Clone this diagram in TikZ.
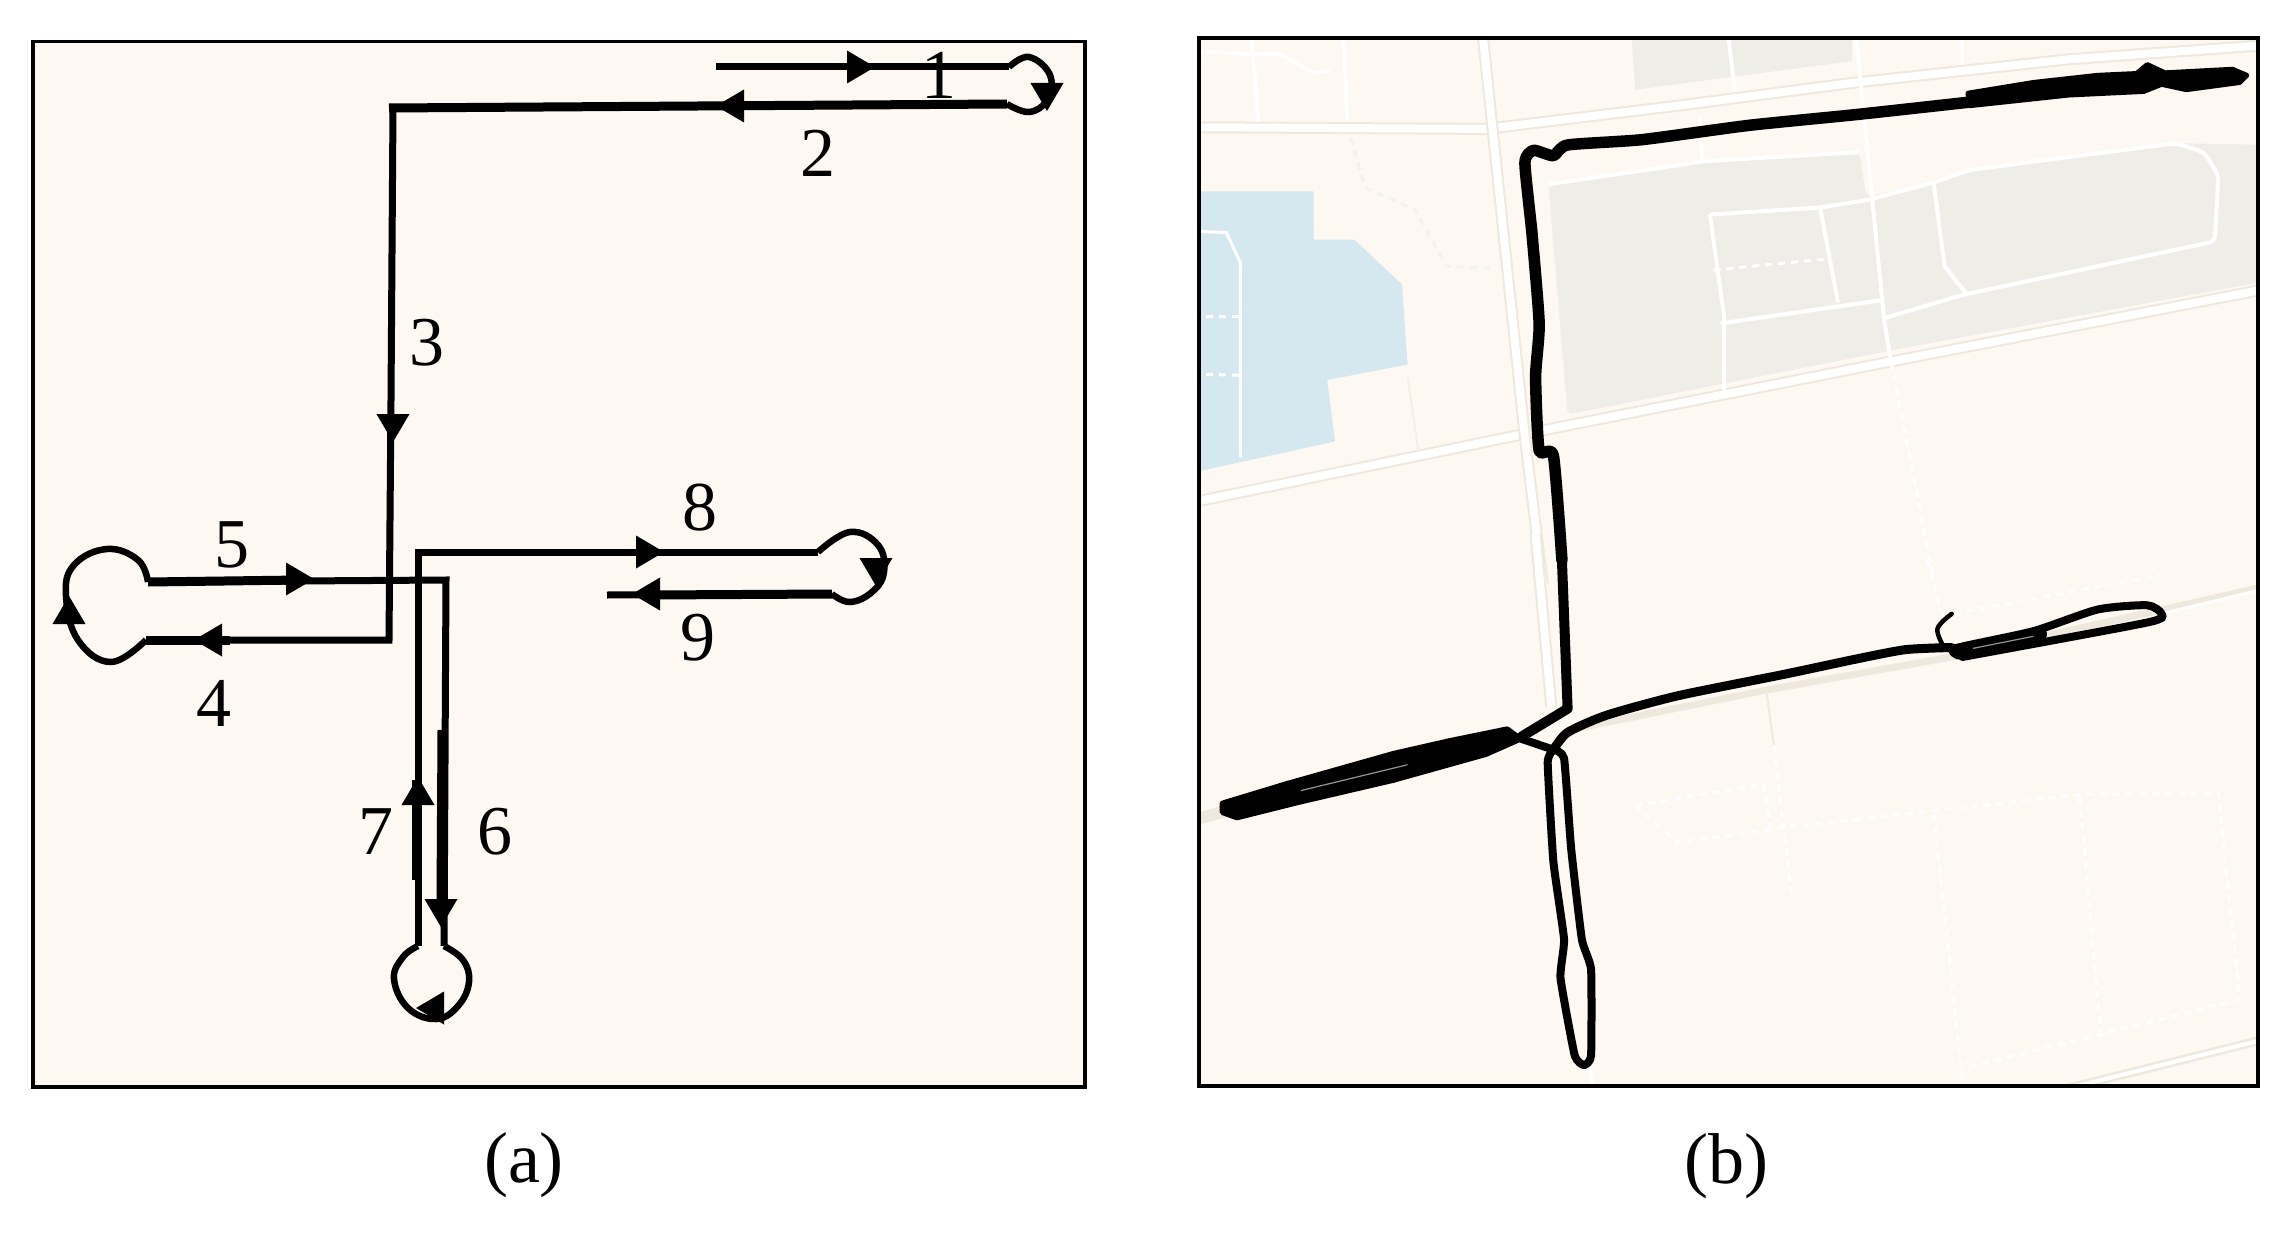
\documentclass[tikz,border=0pt]{standalone}
\usepackage{fontspec}
\setmainfont{Liberation Serif}
\definecolor{paper}{HTML}{FDF8F2}
\definecolor{block}{HTML}{EEEDE8}
\definecolor{water}{HTML}{D5E8F0}
\definecolor{casing}{HTML}{EFE8DC}
\newcommand{\routetip}[2]{\fill[black,shift={(#1)},rotate=#2] (0,0) -- (-28,16.5) -- (-28,-16.5) -- cycle;}
\tikzset{
  frame/.style={draw=black,line width=3.5pt,fill=paper},
  route/.style={draw=black,line width=7pt,line join=miter},
  heavy/.style={draw=black,line width=9pt},
  loopline/.style={draw=black,line width=6.5pt},
  digit/.style={font=\fontsize{70}{80}\selectfont,inner sep=0pt},
  caption/.style={font=\fontsize{72}{80}\selectfont,inner sep=0pt},
  zthree/.style={shift={(1180,20)},x=0.7112pt,y=-0.3571pt},
  zfour/.style={shift={(1180,560)},x=0.7112pt,y=-0.4310pt},
  wide/.style={draw=casing,line width=12pt},
  wideinner/.style={draw=white,line width=8pt},
  lane/.style={draw=white,line width=4pt},
  trail/.style={draw=#1,line width=3pt,dash pattern=on 7pt off 6pt},
  trail/.default=white,
  track/.style={draw=black,line width=11.5pt,line join=round,line cap=round},
  trackthin/.style={draw=black,line width=8pt,line join=round,line cap=round},
}
\begin{document}
\begin{tikzpicture}[x=1pt,y=-1pt]
\useasboundingbox (0,0) rectangle (2295,1236);
\fill[white] (0,0) rectangle (2295,1236);

% ---------- panel (a)
\node[frame,minimum width=1052pt,minimum height=1045pt,anchor=north west,inner sep=0pt] (fa) at (31,40) {};
\coordinate (s1) at (716,67);   \coordinate (c1) at (1009,67);
\coordinate (c2) at (1007,104); \coordinate (k1) at (389,108);
\coordinate (k1b) at (393,106); \coordinate (k2) at (389,640);
\coordinate (c4) at (146,640);  \coordinate (c5) at (148,582);
\coordinate (k3) at (446,580);  \coordinate (c6) at (444,946);
\coordinate (c7) at (418,946);  \coordinate (k4) at (418,552);
\coordinate (c8) at (818,552);  \coordinate (c9) at (832,594);
\coordinate (e9) at (607,595);

\draw[route] (s1) -- (c1);
\draw[heavy] (c2) -- (k1);
\draw[route] (k1b) -- (391,400) -- (k2) -- (c4);
\draw[route] (c5) -- (k3) -- (c6);
\draw[route] (c7) -- (k4) -- (c8);
\draw[route] (c9) -- (e9);
\draw[heavy] (442,730) -- (441,900);
\draw[heavy] (416,780) -- (416,880);
\draw[heavy] (c9) -- (650,595);
\draw[heavy] (c4) -- (230,640);
\draw[heavy] (c5) -- (300,580);

\draw[loopline] plot[smooth,tension=0.7] coordinates {(c1) (1029,57) (1050,75) (1047,100) (1029,112) (c2)};
\draw[loopline] plot[smooth,tension=0.7] coordinates {(c4) (111,662) (78,640) (66,596) (74,565) (107,549) (138,560) (c5)};
\draw[loopline] plot[smooth,tension=0.7] coordinates {(c8) (850,532) (878,545) (884,572) (872,592) (850,602) (c9)};
\draw[loopline] plot[smooth,tension=0.7] coordinates {(c6) (463,960) (469,982) (458,1006) (436,1019) (408,1008) (394,979) (403,957) (c7)};

\routetip{875,67}{0}
\routetip{716,106}{180}
\routetip{393,442}{-90}
\routetip{194,640}{180}
\routetip{314,579}{0}
\routetip{441,927}{-90}
\routetip{418,777}{90}
\routetip{664,552}{0}
\routetip{632,594}{180}
\routetip{1047,111}{-90}
\routetip{876,586}{-90}
\routetip{69,596}{90}
\routetip{416,1008}{180}

\node[digit] (n1) at (939,75) {1};
\node[digit] (n2) at (818,153) {2};
\node[digit] (n3) at (427,343) {3};
\node[digit] (n4) at (214,703) {4};
\node[digit] (n5) at (232,545) {5};
\node[digit] (n6) at (495,832) {6};
\node[digit] (n7) at (376,832) {7};
\node[digit] (n8) at (700,508) {8};
\node[digit] (n9) at (698,638) {9};
\node[caption] (capa) at (524,1165) {(a)};

% ---------- panel (b)
\fill[paper] (1199,38) rectangle (2258,1086);
\begin{scope}
\clip (1199,38) rectangle (2258,1086);
\begin{scope}[zthree]
 \fill[block,rounded corners=6pt] (518,460) -- (740,395) -- (955,370) -- (965,495) -- (1060,455) -- (1110,420) -- (1400,345) -- (1530,350) -- (1530,730) -- (1000,925) -- (545,1105) -- cycle;
 \fill[block] (635,50) -- (945,50) -- (945,115) -- (640,195) -- cycle;
 \fill[water] (0,480) -- (188,480) -- (188,615) -- (245,615) -- (312,740) -- (320,965) -- (207,1008) -- (218,1180) -- (0,1275) -- cycle;
 \draw[lane,line width=3pt] (0,590) -- (65,595) -- (85,680) -- (85,1225);
 \draw[trail] (0,830) -- (85,830);
 \draw[trail] (0,990) -- (85,995);
 \draw[wide] (0,300) -- (430,305) -- (700,240) -- (950,175) -- (1250,110) -- (1530,70);
 \draw[wideinner] (0,300) -- (430,305) -- (700,240) -- (950,175) -- (1250,110) -- (1530,70);
 \draw[wide] (0,1358) -- (470,1165) -- (990,960) -- (1530,752);
 \draw[wideinner] (0,1358) -- (470,1165) -- (990,960) -- (1530,752);
 \draw[wide] (425,30) -- (485,1170) -- (510,1580);
 \draw[wideinner] (425,30) -- (485,1170) -- (510,1580);
 \draw[lane] (950,30) -- (990,840) -- (1000,960);
 \draw[lane] (100,30) -- (110,285);
 \draw[lane] (230,30) -- (235,280);
 \draw[lane] (770,30) -- (780,195);
 \draw[lane] (1100,30) -- (1100,125);
 \draw[lane] (0,85) -- (100,95) -- (140,95) -- (190,150) -- (210,140);
 \draw[lane] (730,270) -- (735,395);
 \draw[lane] (518,460) -- (740,395) -- (955,370);
 \draw[lane,rounded corners=6pt] (745,545) -- (900,525) -- (965,505) -- (1060,455) -- (1110,420) -- (1400,345) -- (1440,370) -- (1460,435) -- (1455,620) -- (1100,770) -- (990,835);
 \draw[lane] (745,545) -- (765,830) -- (765,1040);
 \draw[lane] (900,525) -- (925,790);
 \draw[lane] (760,850) -- (880,815) -- (985,785);
 \draw[lane] (1060,460) -- (1075,690) -- (1105,765);
 \draw[trail] (750,700) -- (905,670);
 \draw[trail=block!70!white] (240,330) -- (260,470) -- (330,530) -- (375,690) -- (440,695);
 \draw[trail] (1000,960) -- (1060,1568);
 \draw[lane,draw=casing!60!paper,line width=2pt] (320,1000) -- (335,1205);
 \draw[track] plot[smooth,tension=0.35] coordinates {(537,1512) (525,1220) (505,1205) (500,1000) (505,850) (495,600) (485,400) (497,365) (525,380) (545,350) (650,335) (800,295) (950,265) (1110,230)};
 \filldraw[black,line width=5pt,line join=round] (1108,205) -- (1200,175) -- (1290,155) -- (1345,150) -- (1360,125) -- (1385,148) -- (1480,138) -- (1500,155) -- (1490,175) -- (1415,195) -- (1380,180) -- (1355,200) -- (1250,210) -- (1110,240) -- cycle;
\end{scope}
\begin{scope}[zfour]
 \draw[wide] (500,-60) -- (522,340);
 \draw[wideinner] (500,-60) -- (522,340);
 \draw[wide,line width=7pt] (560,390) -- (830,300) -- (1085,225) -- (1530,60);
 \draw[wideinner,line width=3pt] (1380,125) -- (1530,65);
 \draw[wide] (0,612) -- (70,580);
 \draw[wide,line width=9pt] (1250,1225) -- (1530,1110);
 \draw[wideinner,line width=4pt] (1250,1225) -- (1530,1110);
 \draw[lane] (575,1175) -- (582,1230);
 \draw[lane,draw=casing,line width=2pt] (825,310) -- (835,430);
 \draw[trail] (835,430) -- (860,780);
 \draw[trail] (1070,130) -- (1380,35);
 \draw[trail] (640,570) -- (820,520) -- (830,620);
 \draw[trail] (640,570) -- (700,655) -- (850,620) -- (1260,545) -- (1460,540) -- (1490,1020) -- (1100,1180);
 \draw[trail] (1060,590) -- (1100,1210);
 \draw[trail] (1265,550) -- (1295,1100);
 \draw[trail] (1050,0) -- (1070,120);
 \draw[track,line width=10pt] (537,0) -- (545,345) -- (480,410);
 \filldraw[black,line width=6pt,line join=round] (460,393) -- (478,415) -- (430,450) -- (300,510) -- (170,560) -- (80,597) -- (60,585) -- (60,565) -- (150,520) -- (300,450) -- (380,420) -- cycle;
 \draw[paper!60!black,line width=1.2pt] (170,535) -- (320,475);
 \draw[trackthin] (480,415) -- (525,440);
 \draw[trackthin,line width=9pt] plot[smooth,tension=0.4] coordinates {(525,440) (545,400) (600,360) (700,315) (850,265) (950,230) (1020,208) (1085,203)};
 \draw[trackthin] plot[smooth,tension=0.25] coordinates {(525,440) (517,470) (525,700) (540,880) (535,970) (555,1150) (568,1172) (578,1150) (578,950) (565,880) (550,670) (540,460) (525,440)};
 \draw[trackthin] plot[smooth,tension=0.4] coordinates {(1095,222) (1090,205) (1200,165) (1290,115) (1360,105) (1380,125) (1360,145) (1100,225)};
 \draw[trackthin,line width=13pt] (1095,210) -- (1210,172);
 \draw[paper!60!black,line width=1.2pt] (1115,205) -- (1200,177);
 \draw[trackthin,line width=4.5pt] plot[smooth,tension=0.6] coordinates {(1085,125) (1065,160) (1075,205)};
\end{scope}
\end{scope}
\node[frame,fill=none,minimum width=1059pt,minimum height=1048pt,anchor=north west,inner sep=0pt] (fb) at (1197.25,36.25) {};
\node[caption] (capb) at (1726,1166) {(b)};
\end{tikzpicture}
\end{document}
